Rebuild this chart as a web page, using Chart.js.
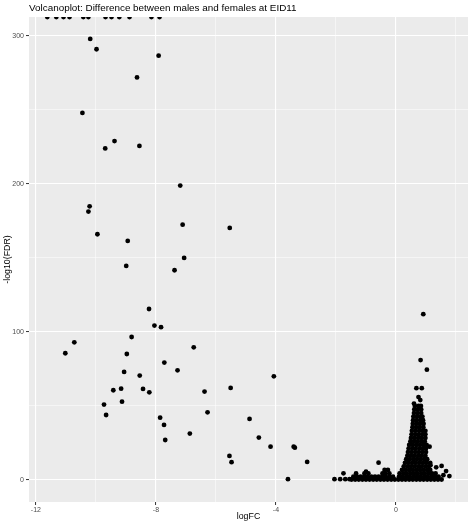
<!DOCTYPE html>
<html>
<head>
<meta charset="utf-8">
<title>Volcanoplot EID11</title>
<script src="https://cdn.jsdelivr.net/npm/chart.js@4.4.0/dist/chart.umd.min.js"></script>
<style>
  html, body { margin: 0; padding: 0; background: #ffffff; }
  #volcano { display: block; }
</style>
</head>
<body>
<canvas id="volcano" width="474" height="526"></canvas>
<script>
document.addEventListener("DOMContentLoaded", () => {

  /* ------------------- DATA -------------------- */

  const TITLE = "Volcanoplot: Difference between males and females at EID11";
  const X_TITLE = "logFC";
  const Y_TITLE = "-log10(FDR)";

  const X_TICKS   = [-12, -10, -8, -6, -4, -2, 0, 2];
  const X_LABELED = [-12, -8, -4, 0];
  const Y_TICKS   = [0, 50, 100, 150, 200, 250, 300];
  const Y_LABELED = [0, 100, 200, 300];

  // genes with FDR == 0 (-log10 -> Inf), ggplot pins them to the top edge
  const infLogFC = [-11.62, -11.32, -11.08, -10.88, -10.42, -10.25, -9.68, -9.48, -9.22, -8.88, -8.15, -7.88];

  // scattered genes (logFC, -log10 FDR)
  const outLogFC = [
    -10.19, -9.98, -7.91, -8.63, -10.45, -9.38, -9.69, -8.55, -7.19, -10.21,
    -10.25, -7.11, -5.54, -9.95, -8.94, -7.06, -8.99, -7.38, -8.23, -8.05,
    -7.83, -10.72, -8.81, -11.02, -8.97, -6.74, -7.72, -7.28, -9.06, -8.54,
    -9.42, -9.16, -8.43, -8.22, -6.38, -5.51, -9.13, -9.73, -9.66, -6.28,
    -7.86, -7.73, -6.87, -7.69, -4.88, -4.07, -4.57, -4.18, -3.41, -3.37,
    -5.55, -5.48, -2.96, -3.60,
    0.91, 0.82, 1.03, 0.68, 0.86, 0.75, 0.81, 0.60, 1.12, 1.15,
    1.34, 1.52, 1.67, 1.58, 1.78, -0.58, -1.75, -1.00, -2.05, -1.86,
    -1.69, -1.55
  ];
  const outFDR = [
    298, 291, 286.7, 272, 248, 229, 224, 225.7, 198.9, 184.9,
    181.3, 172.5, 170.3, 166, 161.5, 150, 144.6, 141.7, 115.5, 104.3,
    103.2, 93, 96.6, 85.6, 85.1, 89.6, 79.3, 74.1, 73, 70.5,
    60.6, 61.7, 61.5, 59.2, 59.7, 62.2, 52.9, 50.9, 43.9, 45.7,
    42.1, 37.2, 31.3, 27, 41.2, 70, 28.6, 22.5, 22.5, 21.8,
    16.2, 12, 12.2, 0.5,
    112, 81, 74.5, 62, 62, 56, 54, 51.6, 22.5, 10,
    8.5, 9.5, 6, 3.2, 2.6, 11.7, 4.5, 5.6, 0.5, 0.5,
    0.5, 0.5
  ];

  // the dense blob around logFC 0: [-log10 FDR, [logFC...]]
  const blobRows = [
    [0.3,  [-1.48, -1.36, -1.24, -1.12, -1.0, -0.88, -0.76, -0.64, -0.52, -0.4, -0.28, -0.16, -0.04, 0.08, 0.2, 0.32, 0.44, 0.56, 0.68, 0.8, 0.92, 1.04, 1.16, 1.28, 1.4, 1.52]],
    [2.2,  [-1.42, -1.3, -1.18, -1.06, -0.94, -0.82, -0.7, -0.58, -0.46, -0.34, -0.22, -0.1, 0.1, 0.22, 0.34, 0.46, 0.58, 0.7, 0.82, 0.94, 1.06, 1.18, 1.3, 1.42]],
    [4.4,  [-1.33, -1.05, -0.92, -0.45, -0.35, -0.22, 0.12, 0.24, 0.36, 0.48, 0.6, 0.72, 0.84, 0.96, 1.08, 1.2, 1.32]],
    [6.8,  [-0.38, -0.27, 0.2, 0.32, 0.44, 0.56, 0.68, 0.8, 0.92, 1.04, 1.14]],
    [9.2,  [0.26, 0.38, 0.5, 0.62, 0.74, 0.86, 0.98, 1.1]],
    [11.6, [0.3, 0.42, 0.54, 0.66, 0.78, 0.9, 1.02, 1.14]],
    [14,   [0.34, 0.46, 0.58, 0.7, 0.82, 0.94, 1.04]],
    [16.4, [0.38, 0.5, 0.62, 0.74, 0.86, 0.98]],
    [18.8, [0.4, 0.52, 0.64, 0.76, 0.88, 1.0]],
    [21.2, [0.42, 0.54, 0.66, 0.78, 0.9, 1.0]],
    [23.6, [0.44, 0.56, 0.68, 0.8, 0.92, 1.02]],
    [26,   [0.48, 0.6, 0.72, 0.84, 0.96]],
    [28.4, [0.5, 0.62, 0.74, 0.86, 0.98]],
    [30.8, [0.52, 0.64, 0.76, 0.88, 0.98]],
    [33.2, [0.53, 0.65, 0.77, 0.89, 0.98]],
    [35.6, [0.55, 0.67, 0.79, 0.91]],
    [38,   [0.56, 0.68, 0.8, 0.92]],
    [40.4, [0.57, 0.69, 0.81, 0.9]],
    [42.8, [0.58, 0.7, 0.82, 0.88]],
    [45.2, [0.6, 0.72, 0.84]],
    [47.6, [0.61, 0.73, 0.84]],
    [50,   [0.63, 0.75, 0.83]]
  ];

  // panel limits (ggplot default 5% expansion)
  const X_MIN = -12.23, X_MAX = 2.40;
  const Y_MIN = -14.9,  Y_MAX = 312.8;

  /* ------------------- BUILD POINTS -------------------- */

  const points = [];
  blobRows.forEach(([fdr, fcs]) => fcs.forEach(fc => points.push({ x: fc, y: fdr })));
  outLogFC.forEach((fc, i) => points.push({ x: fc, y: outFDR[i] }));
  infLogFC.forEach(fc => points.push({ x: fc, y: Y_MAX }));

  /* ------------------- PLUGINS -------------------- */

  const panelBg = {
    id: "panelBg",
    beforeDraw(chart){
      const { ctx, chartArea: a } = chart;
      ctx.save();
      ctx.fillStyle = "#ffffff";
      ctx.fillRect(0, 0, chart.width, chart.height);
      ctx.fillStyle = "#EBEBEB";
      ctx.fillRect(a.left, a.top, a.right - a.left, a.bottom - a.top);
      ctx.restore();
    }
  };

  const plotTitle = {
    id: "plotTitle",
    afterDraw(chart){
      const { ctx, chartArea: a } = chart;
      ctx.save();
      ctx.font = '9.9px "Liberation Sans", Arial, sans-serif';
      ctx.fillStyle = "#000000";
      ctx.textBaseline = "middle";
      ctx.textAlign = "left";
      ctx.fillText(TITLE, a.left, 8);
      ctx.restore();
    }
  };

  Chart.defaults.font.family = '"Liberation Sans", Arial, sans-serif';

  const gridFor = (labeled) => ({
    color: "#ffffff",
    lineWidth: c => labeled.includes(c.tick.value) ? 1.1 : 0.5,
    drawTicks: true,
    tickLength: 3,
    tickWidth: 1,
    tickColor: c => labeled.includes(c.tick.value) ? "#333333" : "rgba(0,0,0,0)"
  });

  new Chart(document.getElementById("volcano").getContext("2d"), {
    type: "scatter",
    data: {
      datasets: [{
        data: points,
        backgroundColor: "#000000",
        borderWidth: 0,
        pointRadius: 2.4,
        pointHoverRadius: 2.4,
        clip: 0
      }]
    },
    options: {
      responsive: false,
      animation: false,
      events: [],
      layout: { padding: { top: 17, right: 6, left: 0, bottom: 0 } },
      plugins: { legend: { display: false }, tooltip: { enabled: false }, title: { display: false } },
      scales: {
        x: {
          type: "linear",
          min: X_MIN, max: X_MAX,
          afterBuildTicks: s => { s.ticks = X_TICKS.map(v => ({ value: v })); },
          afterFit: s => { s.height = 24; },
          ticks: {
            autoSkip: false, maxRotation: 0, padding: 1,
            color: "#4D4D4D", font: { size: 7 },
            callback: v => X_LABELED.includes(v) ? String(v) : ""
          },
          grid: gridFor(X_LABELED),
          border: { display: false },
          title: { display: true, text: X_TITLE, color: "#000000", font: { size: 8.8 }, padding: { top: 0, bottom: 4.5 } }
        },
        y: {
          type: "linear",
          min: Y_MIN, max: Y_MAX,
          afterBuildTicks: s => { s.ticks = Y_TICKS.map(v => ({ value: v })); },
          afterFit: s => { s.width = 29; },
          ticks: {
            autoSkip: false, padding: 2,
            color: "#4D4D4D", font: { size: 7 },
            callback: v => Y_LABELED.includes(v) ? String(v) : ""
          },
          grid: gridFor(Y_LABELED),
          border: { display: false },
          title: { display: true, text: Y_TITLE, color: "#000000", font: { size: 8.8 }, padding: { top: 2, bottom: 0 } }
        }
      }
    },
    plugins: [panelBg, plotTitle]
  });

});
</script>
</body>
</html>
